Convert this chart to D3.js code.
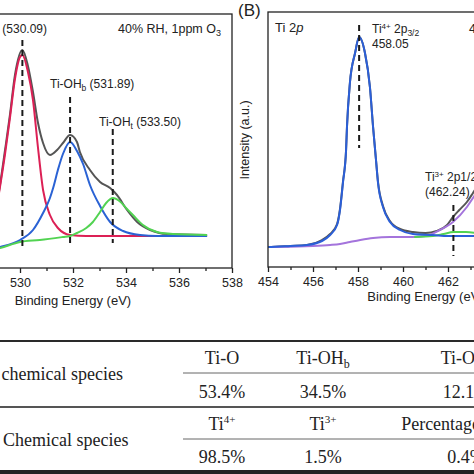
<!DOCTYPE html>
<html lang="en">
<head>
<meta charset="utf-8">
<title>XPS O 1s / Ti 2p</title>
<script src="https://d3js.org/d3.v7.min.js"></script>
<style>
  html, body { margin: 0; padding: 0; background: #fff; }
  svg { display: block; }
  .plot text { font-family: 'Liberation Sans', Arial, sans-serif; fill: #222; }
  .tbl text { font-family: 'Liberation Serif', 'Times New Roman', serif; fill: #222; font-size: 18px; }
</style>
</head>
<body>
<div id="chart"></div>
<script>

/* Data */
/* ========================= */

// (A) O 1s, 40% RH : [binding energy (eV), intensity (a.u.)]
var oEnvelope = [[528.5,22],[529.0,47],[529.25,84],[529.43,117],[529.62,153],[529.81,193],[530.09,218],[530.3,202],
  [530.49,176],[530.68,145],[530.87,125],[531.13,113],[531.4,118],[531.62,125],[531.89,133],[532.15,126],[532.26,116],
  [532.64,98],[533.02,86],[533.4,80],[533.66,73],[534.04,58],[534.42,46],[534.91,38],[535.55,34],[537.06,33]];
var oTiO = [[528.5,21],[528.75,26],[529.0,45],[529.25,82],[529.43,113],[529.62,150],[529.81,189],[530.0,211],[530.09,213],
  [530.3,196],[530.49,168],[530.68,120],[530.87,78],[531.13,53],[531.43,40],[531.89,33],[532.5,32],[533.5,32],[535,32],[537.06,32]];
var oTiOHb = [[528.5,17],[529.25,21],[530.0,28],[530.49,38],[530.87,55],[531.13,70],[531.25,80],[531.43,98],[531.62,114],
  [531.89,126],[532.15,117],[532.38,104],[532.64,83],[533.02,62],[533.4,46],[533.89,37],[534.53,33],[535.2,32],[537.06,32]];
var oTiOHt = [[528.5,16],[529.25,20],[530.0,26],[530.75,28],[531.62,31],[531.89,32],[532.15,35],[532.5,40],[532.75,46],
  [533.02,56],[533.25,65],[533.51,70],[533.75,67],[534.04,59],[534.26,53],[534.64,43],[535.17,36],[535.77,34],[537.06,33]];
var oPeaks = [530.09, 531.89, 533.50];

// (B) Ti 2p
var tiEnvelope = [[453.5,20],[454,20],[455,21],[455.73,22],[456.4,27],[456.76,33],[457.07,43],[457.2,58],[457.33,85],
  [457.47,117],[457.51,140],[457.64,184],[457.87,214],[458.05,230],[458.31,214],[458.53,180],[458.67,140],[458.8,107],
  [458.89,85],[459.11,61],[459.42,46],[459.87,38],[460.44,35],[461.0,34],[461.5,36],[461.96,42],[462.22,50],[462.5,57],
  [462.84,65],[463.11,74],[463.5,88]];
var tiBackground = [[453.5,20],[454,20],[456.0,21],[456.76,22],[457.2,23],[457.64,25],[458.1,27],[458.67,29],[459.42,30],
  [460.44,30],[461.0,31],[461.64,37],[462.22,45],[462.84,60],[463.11,69],[463.5,82]];
var tiIII = [[460.5,30],[461.33,31],[461.8,33],[462.24,35],[462.8,35],[463.5,33]];
var tiIV = [[453.5,20],[454,20],[455,21],[455.73,22],[456.4,26],[456.76,32],[457.07,42],[457.2,57],[457.33,84],[457.47,117],
  [457.51,140],[457.64,184],[457.87,214],[458.05,230],[458.31,214],[458.53,180],[458.67,140],[458.8,107],[458.89,84],
  [459.11,60],[459.42,45],[459.87,37],[460.44,33],[461.33,32],[462.0,31],[463.5,31]];
var tiPeaks = [458.05, 462.24];

// Tick labels
var oTicks = [530, 532, 534, 536, 538];
var oMinor = [527, 529, 531, 533, 535, 537];
var tiTicks = [454, 456, 458, 460, 462];
var tiMinor = [455, 457, 459, 461, 463];

// Table
var o1sSpecies = ['Ti-O', 'Ti-OH', 'Ti-OH'];
var o1sSubs = ['', 'b', 't'];
var o1sShare = ['53.4%', '34.5%', '12.1%'];
var ti2pSpecies = ['Ti', 'Ti', 'Percentage of Ti'];
var ti2pSups = ['4+', '3+', '3+'];
var ti2pShare = ['98.5%', '1.5%', '0.4%'];


/* Set up */
/* ====== */

var width = 474,
    height = 474;

var svg = d3.select('#chart').append('svg')
    .attr('width', width)
    .attr('height', height);

var defs = svg.append('defs');

var line = function(x, y) {
  return d3.line()
    .x(function(d) { return x(d[0]); })
    .y(function(d) { return y(d[1]); })
    .curve(d3.curveMonotoneX);
};

function bottomAxis(g, x, ticks, minor) {
  // major ticks with labels
  var major = g.append('g')
    .call(d3.axisBottom(x).tickValues(ticks).tickSize(5).tickPadding(5).tickFormat(d3.format('d')));
  // minor ticks, separate group so the major ones survive
  g.append('g')
    .call(d3.axisBottom(x).tickValues(minor).tickSize(3).tickFormat(''));
  g.selectAll('.domain').remove();
  g.selectAll('line').attr('stroke', '#222').attr('stroke-width', 1.3);
  major.selectAll('text').style('font-size', '12.5px').attr('fill', '#2a2a2a');
}

function dashed(g, x, xv, y0, y1) {
  g.append('line')
    .attr('x1', x(xv)).attr('x2', x(xv))
    .attr('y1', y0).attr('y2', y1)
    .attr('stroke', '#1a1a1a')
    .attr('stroke-width', 2)
    .attr('stroke-dasharray', '6,4');
}


/* (A) O 1s */
/* -------- */

var xA = d3.scaleLinear().domain([526, 538]).range([-86, 232]);
var yA = d3.scaleLinear().domain([0, 254]).range([268, 14]);

var gA = svg.append('g').attr('class', 'plot');

defs.append('clipPath').attr('id', 'clipA')
  .append('rect').attr('x', xA(526)).attr('y', 14).attr('width', xA(538) - xA(526)).attr('height', 254);

var curvesA = gA.append('g').attr('clip-path', 'url(#clipA)');
var lineA = line(xA, yA);

[[oEnvelope, '#555555'], [oTiO, '#dc2055'], [oTiOHb, '#2a62d4'], [oTiOHt, '#52d352']].forEach(function(s) {
  curvesA.append('path')
    .datum(s[0])
    .attr('d', lineA)
    .attr('fill', 'none')
    .attr('stroke', s[1])
    .attr('stroke-width', 2);
});

dashed(gA, xA, oPeaks[0], 40, 249);
dashed(gA, xA, oPeaks[1], 97, 244);
dashed(gA, xA, oPeaks[2], 129, 243);

gA.append('rect')
  .attr('x', xA(526)).attr('y', 14)
  .attr('width', xA(538) - xA(526)).attr('height', 254)
  .attr('fill', 'none').attr('stroke', '#222').attr('stroke-width', 1.3);

bottomAxis(gA.append('g').attr('transform', 'translate(0,268)'), xA, oTicks, oMinor);

gA.append('text').attr('x', xA(532)).attr('y', 305).attr('text-anchor', 'middle')
  .style('font-size', '13px').text('Binding Energy (eV)');

gA.append('text').attr('x', 47).attr('y', 33).attr('text-anchor', 'end')
  .style('font-size', '12px').text('Ti-O (530.09)');

var rh = gA.append('text').attr('x', 118).attr('y', 33).style('font-size', '12.5px');
rh.append('tspan').text('40% RH, 1ppm O');
rh.append('tspan').attr('dy', 3).style('font-size', '9px').text('3');

var lb = gA.append('text').attr('x', 50).attr('y', 88).style('font-size', '12px');
lb.append('tspan').text('Ti-OH');
lb.append('tspan').attr('dy', 3).style('font-size', '8.5px').text('b');
lb.append('tspan').attr('dy', -3).text(' (531.89)');

var lt = gA.append('text').attr('x', 99).attr('y', 126).style('font-size', '12px');
lt.append('tspan').text('Ti-OH');
lt.append('tspan').attr('dy', 3).style('font-size', '8.5px').text('t');
lt.append('tspan').attr('dy', -3).text('  (533.50)');


/* (B) Ti 2p */
/* --------- */

var xB = d3.scaleLinear().domain([454, 468]).range([268, 583]);
var yB = d3.scaleLinear().domain([0, 255]).range([267, 12]);

var gB = svg.append('g').attr('class', 'plot');

defs.append('clipPath').attr('id', 'clipB')
  .append('rect').attr('x', xB(454)).attr('y', 12).attr('width', xB(468) - xB(454)).attr('height', 255);

var curvesB = gB.append('g').attr('clip-path', 'url(#clipB)');
var lineB = line(xB, yB);

[[tiEnvelope, '#555555'], [tiBackground, '#a474dc'], [tiIII, '#52d352'], [tiIV, '#2b5fd8']].forEach(function(s) {
  curvesB.append('path')
    .datum(s[0])
    .attr('d', lineB)
    .attr('fill', 'none')
    .attr('stroke', s[1])
    .attr('stroke-width', 2);
});

dashed(gB, xB, tiPeaks[0], 25, 148);
dashed(gB, xB, tiPeaks[1], 205, 256);

gB.append('rect')
  .attr('x', xB(454)).attr('y', 12)
  .attr('width', xB(468) - xB(454)).attr('height', 255)
  .attr('fill', 'none').attr('stroke', '#222').attr('stroke-width', 1.3);

bottomAxis(gB.append('g').attr('transform', 'translate(0,267)'), xB, tiTicks, tiMinor);

gB.append('text').attr('x', xB(461)).attr('y', 301).attr('text-anchor', 'middle')
  .style('font-size', '13px').text('Binding Energy (eV)');

gB.append('text')
  .attr('transform', 'translate(249,140) rotate(-90)')
  .attr('text-anchor', 'middle')
  .style('font-size', '12.5px').text('Intensity (a.u.)');

gB.append('text').attr('x', 238).attr('y', 16).style('font-size', '17px').text('(B)');

var t2p = gB.append('text').attr('x', 275).attr('y', 32).style('font-size', '13px');
t2p.append('tspan').text('Ti 2');
t2p.append('tspan').style('font-style', 'italic').text('p');

var l4 = gB.append('text').attr('x', 372).attr('y', 33).style('font-size', '12px');
l4.append('tspan').text('Ti');
l4.append('tspan').attr('dy', -4).style('font-size', '8px').text('4+');
l4.append('tspan').attr('dy', 4).text(' 2p');
l4.append('tspan').attr('dy', 3).style('font-size', '8.5px').text('3/2');
gB.append('text').attr('x', 372).attr('y', 48).style('font-size', '12px').text('458.05');

var l3 = gB.append('text').attr('x', 425).attr('y', 181).style('font-size', '12px');
l3.append('tspan').text('Ti');
l3.append('tspan').attr('dy', -4).style('font-size', '8px').text('3+');
l3.append('tspan').attr('dy', 4).text(' 2p1/2');
gB.append('text').attr('x', 425).attr('y', 196).style('font-size', '12px').text('(462.24)');

var rhB = gB.append('text').attr('x', 469).attr('y', 33).style('font-size', '12.5px');
rhB.append('tspan').text('40% RH, 1ppm O');
rhB.append('tspan').attr('dy', 3).style('font-size', '9px').text('3');


/* Table */
/* ===== */

var gT = svg.append('g').attr('class', 'tbl');
var colX = [222, 323, 466];

function rule(y, x0, w, c) {
  gT.append('line').attr('x1', x0).attr('x2', width).attr('y1', y).attr('y2', y)
    .attr('stroke', c).attr('stroke-width', w);
}

rule(341, 0, 2, '#2a2a2a');
rule(373, 183, 1, '#666');
rule(407, 0, 2, '#555');
rule(439, 183, 1, '#666');
rule(472, 0, 4, '#222');

gT.append('text').attr('x', 123).attr('y', 380).attr('text-anchor', 'end').text('O 1s chemical species');
gT.append('text').attr('x', 3).attr('y', 446).text('Chemical species');

o1sSpecies.forEach(function(s, i) {
  var t = gT.append('text').attr('x', colX[i]).attr('y', 364).attr('text-anchor', 'middle');
  t.append('tspan').text(s);
  if (o1sSubs[i]) t.append('tspan').attr('dy', 4).style('font-size', '12px').text(o1sSubs[i]);
  gT.append('text').attr('x', colX[i]).attr('y', 398).attr('text-anchor', 'middle').text(o1sShare[i]);
});

ti2pSpecies.forEach(function(s, i) {
  var t = gT.append('text').attr('x', colX[i]).attr('y', 430).attr('text-anchor', 'middle');
  t.append('tspan').text(s);
  t.append('tspan').attr('dy', -7).style('font-size', '11px').text(ti2pSups[i]);
  gT.append('text').attr('x', colX[i]).attr('y', 463).attr('text-anchor', 'middle').text(ti2pShare[i]);
});

</script>
</body>
</html>
